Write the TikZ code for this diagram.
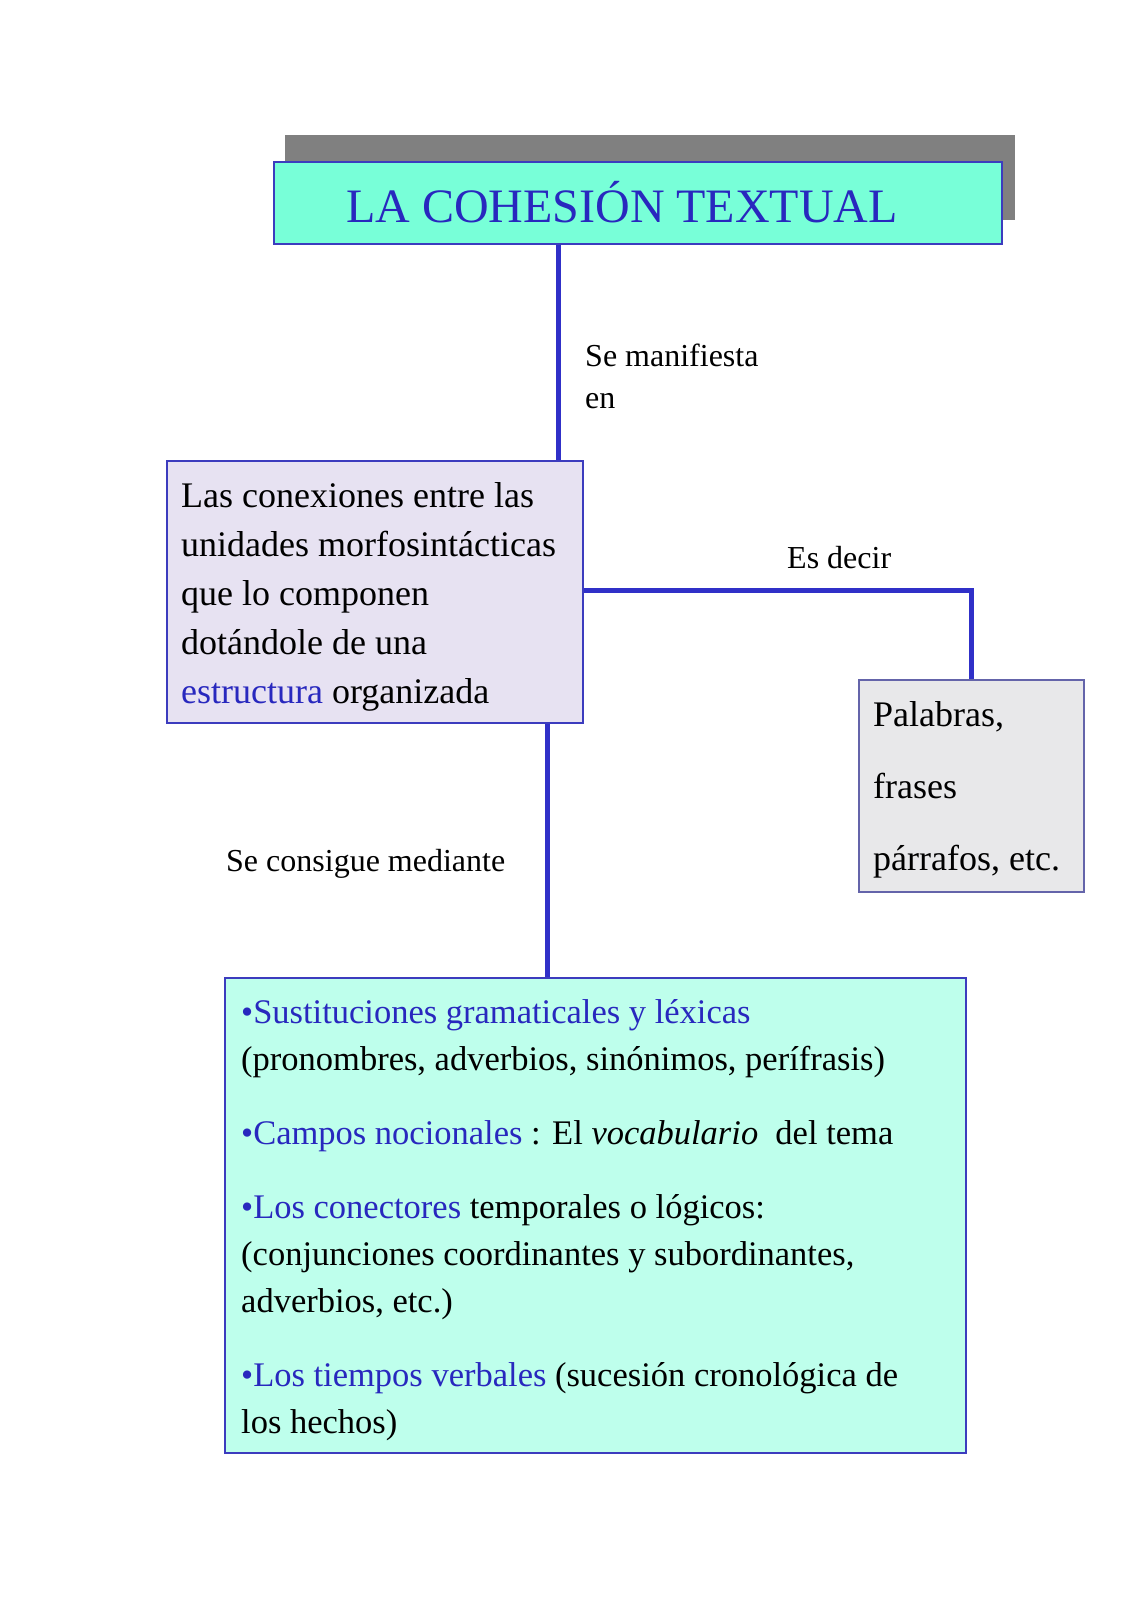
\documentclass[tikz,border=0pt]{standalone}
\usepackage{fontspec}
\setmainfont{Liberation Serif}
\definecolor{shadowgray}{RGB}{128,128,128}
\definecolor{titlefill}{RGB}{120,255,216}
\definecolor{linkblue}{RGB}{48,48,200}
\definecolor{textblue}{RGB}{40,40,190}
\definecolor{lavender}{RGB}{231,226,242}
\definecolor{palegray}{RGB}{232,232,234}
\definecolor{paleaqua}{RGB}{190,255,236}
\definecolor{edgeblue}{RGB}{60,60,190}
\definecolor{edgeslate}{RGB}{100,100,170}
\begin{document}
\begin{tikzpicture}[x=1pt,y=-1pt,
  boxnode/.style={rectangle, anchor=north west, inner sep=0pt, line width=1.6pt},
  conn/.style={draw=linkblue, line width=5pt},
  txt/.style={anchor=north west, inner sep=0pt, align=left},
  lbl/.style={inner sep=0pt, align=left, font=\fontsize{32}{42}\selectfont}]
\useasboundingbox (0,0) rectangle (1131,1600);
\fill[white] (0,0) rectangle (1131,1600);
% title
\node[boxnode, fill=shadowgray, minimum width=730pt, minimum height=85pt] (shadow) at (284,134) {};
\node[boxnode, fill=titlefill, draw=edgeblue, minimum width=728pt, minimum height=82pt] (title) at (273,161) {};
\node[anchor=base, inner sep=0pt, text=textblue, font=\fontsize{48}{56}\selectfont] (titletext) at (622,222) {LA COHESIÓN TEXTUAL};
% box 2
\node[boxnode, fill=lavender, draw=edgeblue, minimum width=416pt, minimum height=262pt] (conex) at (166,460) {};
\node[txt, font=\fontsize{36}{49}\selectfont] (conextext) at (181,482) {Las conexiones entre las\\unidades morfosintácticas\\que lo componen\\dotándole de una\\\textcolor{textblue}{estructura} organizada};
% palabras box
\node[boxnode, fill=palegray, draw=edgeslate, minimum width=225pt, minimum height=212pt] (pal) at (858,679) {};
\node[txt, font=\fontsize{36}{72}\selectfont] (paltext) at (873,701) {Palabras,\\frases\\párrafos, etc.};
% box 4
\node[boxnode, fill=paleaqua, draw=edgeblue, minimum width=741pt, minimum height=475pt] (medios) at (224,977) {};
\node[txt, font=\fontsize{34.5}{47}\selectfont] (mediostext) at (241,999) {\textcolor{textblue}{•Sustituciones gramaticales y léxicas}\\
(pronombres, adverbios, sinónimos, perífrasis)\\[27pt]
\textcolor{textblue}{•Campos nocionales} : El \textit{vocabulario}\ \ del tema\\[27pt]
\textcolor{textblue}{•Los conectores} temporales o lógicos:\\
(conjunciones coordinantes y subordinantes,\\
adverbios, etc.)\\[27pt]
\textcolor{textblue}{•Los tiempos verbales} (sucesión cronológica de\\
los hechos)};
% connector coordinates
\coordinate (c1) at (558,300);
\coordinate (c2) at (700,590);
\coordinate (c3) at (547,850);
\draw[conn] (title.south -| c1) -- (conex.north -| c1);
\draw[conn] (conex.east |- c2) -| (pal.north);
\draw[conn] (conex.south -| c3) -- (medios.north -| c3);
% labels
\node[lbl, anchor=north west] (lblmanif) at (585,344) {Se manifiesta\\en};
\node[lbl, anchor=base west] (lbldecir) at (787,568) {Es decir};
\node[lbl, anchor=base west] (lblconsig) at (226,871) {Se consigue mediante};
\end{tikzpicture}
\end{document}
